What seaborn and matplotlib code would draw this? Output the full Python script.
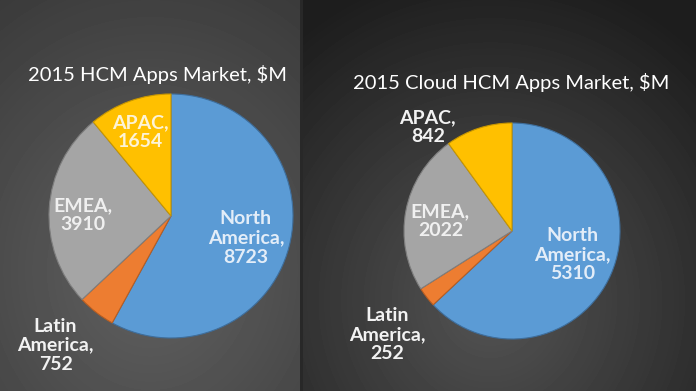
import numpy as np
import matplotlib.pyplot as plt
import seaborn as sns

sns.set_theme(style="dark")
plt.rcParams['font.family'] = ['Lato', 'DejaVu Sans']

# --- data ---
regions = ['North\nAmerica', 'Latin\nAmerica', 'EMEA', 'APAC']
hcm_total = [8723, 752, 3910, 1654]
hcm_cloud = [5310, 252, 2022, 842]
titles = ['2015 HCM Apps Market, $M', '2015 Cloud HCM Apps Market, $M']

colors = ['#5B9BD5', '#ED7D31', '#A5A5A5', '#FFC000']
edges = ['#3E6E9C', '#B85E22', '#7E7E7E', '#C79600']

W, H = 696, 391
fig = plt.figure(figsize=(W / 100, H / 100), dpi=100)

# background: two dark panels with soft radial shading
yy, xx = np.mgrid[0:H, 0:W]
bg = np.zeros((H, W))
left = xx < 302
d_l = np.sqrt(((xx - 150) / 260.0) ** 2 + ((yy - 270) / 300.0) ** 2)
d_r = np.sqrt(((xx - 490) / 260.0) ** 2 + ((yy - 300) / 280.0) ** 2)
bg[left] = (0.38 - 0.14 * np.clip(d_l, 0, 1.3))[left]
bg[~left] = (0.33 - 0.18 * np.clip(d_r, 0, 1.2))[~left]
bg[:, 300:303] = 0.16
bax = fig.add_axes([0, 0, 1, 1])
bax.imshow(bg, cmap='gray', vmin=0, vmax=1, aspect='auto', interpolation='bilinear')
bax.set_axis_off()

# pies: centre (px), radius (px), label radius / angle nudges
layouts = [
    dict(cx=171, cy=216, r=122, title_xy=(158, 75),
         lab=[(0.64, -2), (1.42, -4), (0.72, 3), (0.73, 0)]),
    dict(cx=512, cy=231, r=108, title_xy=(511, 82),
         lab=[(0.60, 2), (1.50, 2), (0.67, 3), (1.24, 21)]),
]
lab_colors = [['#e3edf8', '#f2f2f2', '#f0f0f0', '#fdf3d6'],
              ['#e3edf8', '#f2f2f2', '#f0f0f0', '#f2f2f2']]

for k, (vals, lay) in enumerate(zip([hcm_total, hcm_cloud], layouts)):
    m = 1.6
    size = 2 * m * lay['r']
    ax = fig.add_axes([(lay['cx'] - size / 2) / W, 1 - (lay['cy'] + size / 2) / H,
                       size / W, size / H])
    ax.patch.set_visible(False)
    wedges, _ = ax.pie(vals, colors=colors, startangle=90, counterclock=False,
                       wedgeprops=dict(linewidth=0.8))
    for w, ec in zip(wedges, edges):
        w.set_edgecolor(ec)
    ax.set_xlim(-m, m)
    ax.set_ylim(-m, m)
    ax.set_axis_off()

    for i, w in enumerate(wedges):
        rr, da = lay['lab'][i]
        ang = np.deg2rad((w.theta1 + w.theta2) / 2 + da)
        ax.text(rr * np.cos(ang), rr * np.sin(ang), f"{regions[i]},\n{vals[i]}",
                ha='center', va='center', fontsize=14, fontweight='bold',
                color=lab_colors[k][i], linespacing=1.15)

    tx, ty = lay['title_xy']
    fig.text(tx / W, 1 - ty / H, titles[k], ha='center', va='center',
             fontsize=14.5, color='white')

fig.savefig('out.png', dpi=100)
